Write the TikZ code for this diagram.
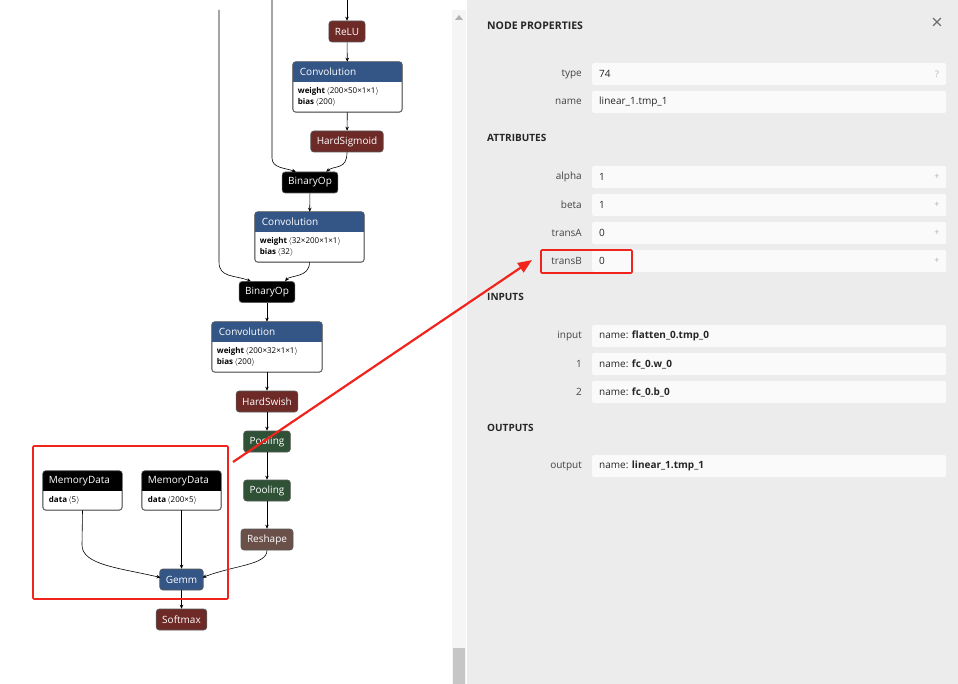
\documentclass[tikz,border=0pt]{standalone}
\usepackage{fontspec}
\setmainfont{Open Sans}
\usetikzlibrary{arrows.meta,calc}
\definecolor{convc}{HTML}{335687}
\definecolor{actc}{HTML}{6E2A26}
\definecolor{poolc}{HTML}{2F5236}
\definecolor{reshc}{HTML}{6B4F49}
\definecolor{panel}{HTML}{ECECEC}
\definecolor{field}{HTML}{FAFAFA}
\definecolor{redc}{HTML}{F0241C}
\definecolor{lbl}{HTML}{444444}
\newcommand{\lan}{\,$\langle$}
\newcommand{\ran}{$\rangle$}
\tikzset{
  x=1pt,y=-1pt,
  op/.style={rounded corners=3pt,draw=gray!70!black,line width=0.6pt,text=white,font=\fontsize{10}{12}\selectfont,minimum height=21pt,inner sep=0pt,inner xsep=6pt},
  act/.style={op,fill=actc},
  blk/.style={op,fill=black},
  pool/.style={op,fill=poolc},
  resh/.style={op,fill=reshc},
  gem/.style={op,fill=convc},
  box/.style={rounded corners=3pt,draw=gray!70!black,line width=0.6pt,fill=white,inner sep=0pt},
  ed/.style={-{Stealth[length=4pt,width=3.5pt]},line width=0.6pt},
  hdr/.style={text=white,font=\fontsize{10}{12}\selectfont,anchor=west,inner sep=0pt},
  att/.style={font=\fontsize{8}{11}\selectfont,anchor=west,inner sep=0pt},
  lab/.style={font=\fontsize{10}{12}\selectfont,text=lbl,anchor=east,inner sep=0pt},
  sec/.style={font=\bfseries\fontsize{10}{12}\selectfont,text=black!85,anchor=west,inner sep=0pt},
  fld/.style={fill=field,rounded corners=1.5pt,draw=none},
  val/.style={font=\fontsize{10}{12}\selectfont,text=black!85,anchor=west,inner sep=0pt},
  plus/.style={font=\fontsize{9}{11}\selectfont,text=gray!60,inner sep=0pt},
}
\newcommand{\cvbox}[7]{% name cx cy w h line1 line2
  \node[box,minimum width=#4pt,minimum height=#5pt] (#1) at (#2,#3) {};
  \begin{scope}
    \clip[rounded corners=3pt] (#1.south west) rectangle (#1.north east);
    \fill[convc] (#1.north west) rectangle ($(#1.north east)+(0,20)$);
  \end{scope}
  \draw[rounded corners=3pt,draw=gray!70!black,line width=0.6pt] (#1.south west) rectangle (#1.north east);
  \node[hdr] at ($(#1.north west)+(7,10)$) {#6};
  \node[att,anchor=north west] at ($(#1.north west)+(5,23.5)$) {\begin{tabular}{@{}l@{}}#7\end{tabular}};
}
\begin{document}
\begin{tikzpicture}
\useasboundingbox (0,0) rectangle (958,684);
\fill[white] (0,0) rectangle (958,684);
% scrollbar and panel
\fill[gray!8] (452,10) rectangle (466,684);
\fill[gray!45] (453,648) rectangle (465,684);
\fill[gray!60] (455,20) -- (463,20) -- (459,15) -- cycle;
\fill[panel] (467,0) rectangle (958,684);

% graph nodes
\node[act] (relu) at (347,31.5) {ReLU};
\cvbox{c1}{347.5}{87}{109}{50}{Convolution}{\textbf{weight}\lan200×50×1×1\ran\\\textbf{bias}\lan200\ran}
\node[act] (hs) at (347,141.5) {HardSigmoid};
\node[blk] (b1) at (310,182.5) {BinaryOp};
\cvbox{c2}{309.5}{237}{109}{50}{Convolution}{\textbf{weight}\lan32×200×1×1\ran\\\textbf{bias}\lan32\ran}
\node[blk] (b2) at (267,292) {BinaryOp};
\cvbox{c3}{267}{347}{110}{50}{Convolution}{\textbf{weight}\lan200×32×1×1\ran\\\textbf{bias}\lan200\ran}
\node[act] (hw) at (267,401.5) {HardSwish};
\node[pool] (p1) at (267,441.5) {Pooling};
\node[pool] (p2) at (267,490.5) {Pooling};
\node[resh] (rs) at (267,539.5) {Reshape};
\node[box,minimum width=79pt,minimum height=39pt] (m1) at (82.5,490.5) {};
\node[box,minimum width=79pt,minimum height=39pt] (m2) at (181.5,490.5) {};
\foreach \m/\t in {m1/{\lan5\ran},m2/{\lan200×5\ran}}{
  \begin{scope}
    \clip[rounded corners=3pt] (\m.south west) rectangle (\m.north east);
    \fill[black] (\m.north west) rectangle ($(\m.north east)+(0,20)$);
  \end{scope}
  \draw[rounded corners=3pt,draw=gray!70!black,line width=0.6pt] (\m.south west) rectangle (\m.north east);
  \node[hdr] at ($(\m.north west)+(6,10)$) {MemoryData};
  \node[att] at ($(\m.north west)+(6,29.5)$) {\textbf{data}\t};
}
\node[gem] (gm) at (181.5,579.5) {Gemm};
\node[act] (sm) at (181.5,619.5) {Softmax};

% edges
\coordinate (t1) at (347,0);
\coordinate (t2) at (272,0);
\coordinate (t3) at (219,10);
\draw[ed] (t1) -- (relu);
\draw[ed] (relu) -- (c1);
\draw[ed] (c1) -- (hs);
\draw[ed] (hs.south) .. controls (347,170) and (335,165) .. ($(b1.north east)+(-12,0)$);
\draw[ed] (t2) -- (272,158) .. controls (272,168) and (285,168) .. ($(b1.north west)+(14,0)$);
\draw[ed] (b1) -- (c2);
\draw[ed] (c2.south) .. controls (309.5,278) and (290,275) .. ($(b2.north east)+(-10,0)$);
\draw[ed] (t3) -- (219,262) .. controls (219,278) and (235,275) .. ($(b2.north west)+(12,0)$);
\draw[ed] (b2) -- (c3);
\draw[ed] (c3) -- (hw);
\draw[ed] (hw) -- (p1);
\draw[ed] (p1) -- (p2);
\draw[ed] (p2) -- (rs);
\draw[ed] (m1.south) -- (82,545) .. controls (82,565) and (120,568) .. ($(gm.west)+(1,-2)$);
\draw[ed] (m2.south) -- (gm.north);
\draw[ed] (rs.south) .. controls (267,565) and (235,565) .. ($(gm.east)+(-1,-2)$);
\draw[ed] (gm) -- (sm);

% highlight
\draw[redc,line width=1.6pt,rounded corners=1pt] (33,446) rectangle (228,599);
\coordinate (ra) at (233,462);
\coordinate (rb) at (532,260);
\draw[redc,line width=2.2pt,-{Triangle[length=14pt,width=11pt]}] (ra) -- (rb);

% panel
\node[sec,font=\bfseries\fontsize{10.5}{12}\selectfont] (np) at (487,26) {NODE PROPERTIES};
\node[font=\fontsize{20}{20}\selectfont,text=gray!85!black,inner sep=0pt] (cl) at (937,24) {×};
\foreach \y/\l/\v/\s in {74/type/74/?,102/name/linear\_1.tmp\_1/,177/alpha/1/+,205/beta/1/+,233/transA/0/+,261/transB/0/+}{
  \fill[fld] (592,\y-11) rectangle (946,\y+11);
  \node[lab] at (582,\y) {\l};
  \node[val] at (599,\y) {\v};
  \node[plus] at (937,\y) {\s};
}
\node[sec] (at) at (487,138) {ATTRIBUTES};
\node[sec] (in) at (487,297) {INPUTS};
\foreach \y/\l/\v in {336/input/flatten\_0.tmp\_0,364/1/fc\_0.w\_0,392/2/fc\_0.b\_0}{
  \fill[fld] (592,\y-11) rectangle (946,\y+11);
  \node[lab] at (582,\y) {\l};
  \node[val] at (599,\y) {name: \textbf{\v}};
}
\node[sec] (ou) at (487,428) {OUTPUTS};
\fill[fld] (592,455) rectangle (946,477);
\node[lab] at (582,466) {output};
\node[val] at (599,466) {name: \textbf{linear\_1.tmp\_1}};
\draw[redc,line width=1.6pt,rounded corners=1pt] (541,250) rectangle (632,273);
\end{tikzpicture}
\end{document}
